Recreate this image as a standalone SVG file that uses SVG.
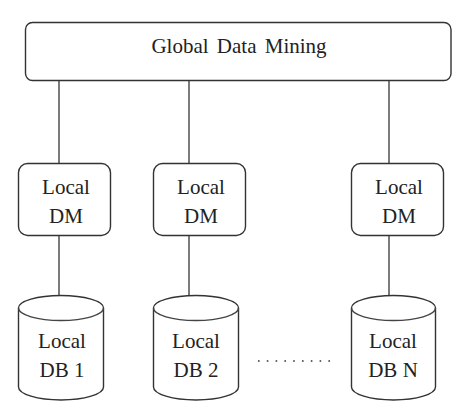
<svg xmlns="http://www.w3.org/2000/svg" width="474" height="413" viewBox="0 0 474 413">
<style>
.box{fill:#fff;stroke:#333;stroke-width:1.4}
.ln{stroke:#444;stroke-width:1.4;fill:none}
.t{font-family:'Liberation Serif','Times New Roman','DejaVu Serif',serif;font-size:21px;fill:#222;text-anchor:middle}
</style>
<rect width="474" height="413" fill="#fff"/>
<g id="connectors">
<line class="ln" x1="59" y1="81" x2="59" y2="163" stroke="#777"/>
<line class="ln" x1="189" y1="81" x2="189" y2="163"/>
<line class="ln" x1="389" y1="81" x2="389" y2="163"/>
<line class="ln" x1="59" y1="236" x2="59" y2="296"/>
<line class="ln" x1="189" y1="236" x2="189" y2="296"/>
<line class="ln" x1="389" y1="236" x2="389" y2="296"/>
<line x1="258" y1="361" x2="334" y2="361" stroke="#333" stroke-width="1.6" stroke-dasharray="1.6 7.2"/>
</g>
<g id="global">
<rect class="box" x="25.5" y="22.5" width="425.5" height="58" rx="7"/>
<text class="t" x="239" y="53" word-spacing="3">Global Data Mining</text>
</g>
<g id="dm1">
<rect class="box" x="18.5" y="163.5" width="92" height="72" rx="9"/>
<text class="t" x="66" y="194">Local</text><text class="t" x="66" y="223">DM</text>
</g>
<g id="dm2">
<rect class="box" x="153.5" y="163.5" width="92" height="72" rx="9"/>
<text class="t" x="201" y="194">Local</text><text class="t" x="201" y="223">DM</text>
</g>
<g id="dm3">
<rect class="box" x="351.5" y="163.5" width="92" height="72" rx="9"/>
<text class="t" x="399" y="194">Local</text><text class="t" x="399" y="223">DM</text>
</g>
<g id="db1">
<path class="box" d="M18.5 308 A42.5 12.5 0 0 1 103.5 308 V387 A42.5 13 0 0 1 18.5 387 Z"/>
<path class="ln" stroke="#333" d="M18.5 308 A42.5 12.5 0 0 0 103.5 308"/>
<text class="t" x="62" y="348">Local</text><text class="t" x="62" y="377">DB 1</text>
</g>
<g id="db2">
<path class="box" d="M153.5 308 A42.5 12.5 0 0 1 238.5 308 V387 A42.5 13 0 0 1 153.5 387 Z"/>
<path class="ln" stroke="#333" d="M153.5 308 A42.5 12.5 0 0 0 238.5 308"/>
<text class="t" x="196" y="348">Local</text><text class="t" x="196" y="377">DB 2</text>
</g>
<g id="dbn">
<path class="box" d="M351.5 308 A42 12.5 0 0 1 435.5 308 V387 A42 13 0 0 1 351.5 387 Z"/>
<path class="ln" stroke="#333" d="M351.5 308 A42 12.5 0 0 0 435.5 308"/>
<text class="t" x="393" y="348">Local</text><text class="t" x="393" y="377">DB N</text>
</g>
</svg>
